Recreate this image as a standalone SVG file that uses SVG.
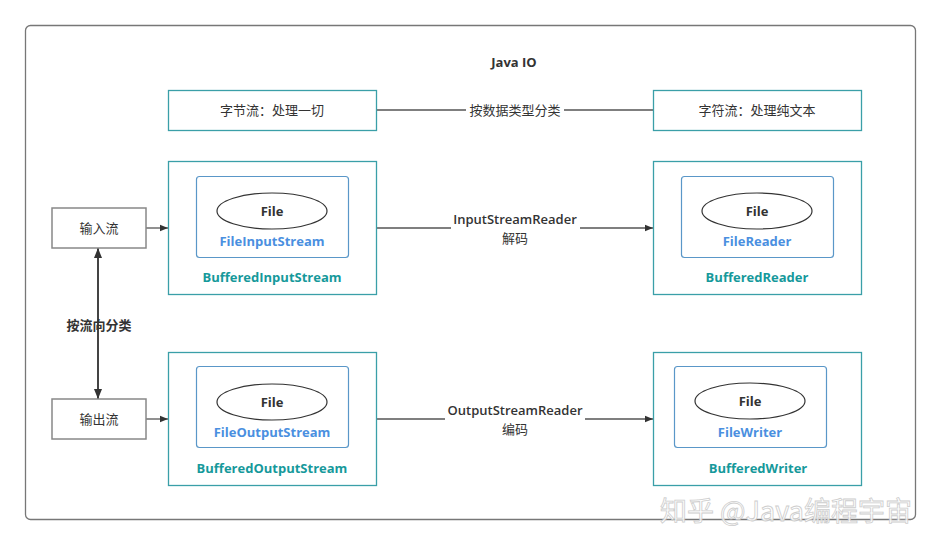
<svg xmlns="http://www.w3.org/2000/svg" width="940" height="544" viewBox="0 0 940 544">
<defs>
<style>
text{font-family:"Open Sans","Noto Sans CJK SC",sans-serif;font-size:13px;fill:#333;text-anchor:middle;dominant-baseline:central}
.b{font-weight:bold}
.sb{font-weight:600}
.cat{fill:#fff;stroke:#3a9fa8;stroke-width:1.3}
.inner{fill:#fff;stroke:#5a97c8;stroke-width:1.2}
.dir{fill:#fff;stroke:#888;stroke-width:1.5}
.ell{fill:#fff;stroke:#333;stroke-width:1.2}
.blue{fill:#4a8fe0;font-weight:bold}
.teal{fill:#16999b;font-weight:bold}
.ln{stroke:#555;stroke-width:1.3;fill:none}
.lnd{stroke:#444;stroke-width:2;fill:none}
</style>
<marker id="ah" viewBox="0 0 10 10" refX="10" refY="5" markerWidth="8" markerHeight="8" markerUnits="userSpaceOnUse" orient="auto-start-reverse">
<path d="M0,1 L10,5 L0,9 Z" fill="#333"/>
</marker>
<marker id="ah2" viewBox="0 0 10 10" refX="10" refY="5" markerWidth="10" markerHeight="10" markerUnits="userSpaceOnUse" orient="auto-start-reverse">
<path d="M0,1 L10,5 L0,9 Z" fill="#333"/>
</marker>
</defs>
<rect x="0" y="0" width="940" height="544" fill="#fff"/>
<rect id="frame" x="25.5" y="25.5" width="890" height="494" rx="5" fill="#fff" stroke="#777" stroke-width="1.3"/>
<text id="title" x="514" y="62" class="b">Java IO</text>

<g id="connectors">
<line class="ln" x1="376" y1="110" x2="653" y2="110"/>
<rect x="466" y="101" width="98" height="18" fill="#fff"/>
<text x="515" y="110">按数据类型分类</text>

<line class="ln" x1="376" y1="228" x2="653" y2="228" marker-end="url(#ah)"/>
<rect x="451" y="211" width="129" height="36" fill="#fff"/>
<text x="515" y="219" class="sb">InputStreamReader</text>
<text x="515" y="238">解码</text>

<line class="ln" x1="376" y1="419" x2="653" y2="419" marker-end="url(#ah)"/>
<rect x="445" y="402" width="140" height="36" fill="#fff"/>
<text x="515" y="410" class="sb">OutputStreamReader</text>
<text x="515" y="429">编码</text>

<line class="ln" x1="146" y1="228" x2="168" y2="228" marker-end="url(#ah)"/>
<line class="ln" x1="146" y1="419" x2="168" y2="419" marker-end="url(#ah)"/>
<line class="lnd" x1="98" y1="248" x2="98" y2="399" marker-start="url(#ah2)" marker-end="url(#ah2)"/>
<text x="99" y="325" class="sb">按流向分类</text>
</g>

<g id="byteStream">
<rect class="cat" x="168.5" y="90.5" width="208" height="40"/>
<text x="272" y="110">字节流：处理一切</text>
</g>
<g id="charStream">
<rect class="cat" x="653.5" y="90.5" width="208" height="40"/>
<text x="757" y="110">字符流：处理纯文本</text>
</g>

<g id="input">
<rect class="dir" x="52" y="208" width="94" height="40"/>
<text x="99" y="228">输入流</text>
</g>
<g id="output">
<rect class="dir" x="52" y="399" width="94" height="40"/>
<text x="99" y="419">输出流</text>
</g>

<g id="bufferedInputStream">
<rect class="cat" x="168.5" y="161.5" width="208" height="133"/>
<rect class="inner" x="196.5" y="176.5" width="152" height="81" rx="3"/>
<ellipse class="ell" cx="272" cy="211" rx="55" ry="18"/>
<text x="272" y="211" class="b">File</text>
<text x="272" y="241" class="blue">FileInputStream</text>
<text x="272" y="277" class="teal">BufferedInputStream</text>
</g>

<g id="bufferedReader">
<rect class="cat" x="653.5" y="161.5" width="208" height="133"/>
<rect class="inner" x="681.5" y="176.5" width="152" height="81" rx="3"/>
<ellipse class="ell" cx="757" cy="211" rx="55" ry="18"/>
<text x="757" y="211" class="b">File</text>
<text x="757" y="241" class="blue">FileReader</text>
<text x="757" y="277" class="teal">BufferedReader</text>
</g>

<g id="bufferedOutputStream">
<rect class="cat" x="168.5" y="352.5" width="208" height="133"/>
<rect class="inner" x="196.5" y="366.5" width="152" height="81" rx="3"/>
<ellipse class="ell" cx="272" cy="402" rx="55" ry="18"/>
<text x="272" y="402" class="b">File</text>
<text x="272" y="432" class="blue">FileOutputStream</text>
<text x="272" y="468" class="teal">BufferedOutputStream</text>
</g>

<g id="bufferedWriter">
<rect class="cat" x="653.5" y="352.5" width="208" height="133"/>
<rect class="inner" x="674.5" y="366.5" width="152" height="81" rx="3"/>
<ellipse class="ell" cx="750" cy="401" rx="55" ry="18"/>
<text x="750" y="401" class="b">File</text>
<text x="750" y="432" class="blue">FileWriter</text>
<text x="758" y="468" class="teal">BufferedWriter</text>
</g>

<text id="watermark" x="786" y="509" style="font-family:'Noto Sans CJK SC',sans-serif;font-size:27px;fill:#fff;stroke:#c8c8c8;stroke-width:0.8;opacity:0.9">知乎 @Java编程宇宙</text>
</svg>
